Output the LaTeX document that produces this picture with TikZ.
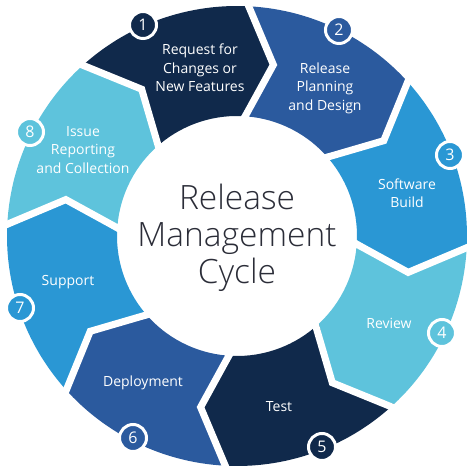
\documentclass[tikz,border=0pt]{standalone}
\usepackage{fontspec}
\setmainfont{Open Sans}
\newfontfamily\lightfont{Open Sans Light}
\definecolor{cnavy}{HTML}{10294B}
\definecolor{cmid}{HTML}{2B5A9E}
\definecolor{cbright}{HTML}{2A97D4}
\definecolor{clight}{HTML}{5EC3DC}
\definecolor{ctext}{HTML}{2B2D38}
\tikzset{
  seglabel/.style={text=white, align=center, font=\fontsize{14}{18.5}\selectfont, inner sep=0pt},
  numdot/.style={circle, draw=white, line width=3pt, minimum size=27pt, inner sep=0pt, text=white, font=\fontsize{16}{16}\selectfont},
  gapline/.style={white, line width=7pt, line join=miter}
}
\begin{document}
\begin{tikzpicture}[x=1pt,y=1pt]
\useasboundingbox (-237,-234) rectangle (237,236);
\def\Ro{230}\def\Ri{120}\def\Rm{175}\def\dl{10}
% segments
\foreach \k/\c in {1/cnavy,2/cmid,3/cbright,4/clight,5/cnavy,6/cmid,7/cbright,8/clight}{
  \pgfmathsetmacro\as{133-45*(\k-1)}
  \pgfmathsetmacro\ae{\as-45}
  \pgfmathsetmacro\at{\ae-\dl}
  \pgfmathsetmacro\an{\as-\dl}
  \fill[\c] (\as:\Ro) arc[start angle=\as,end angle=\ae,radius=\Ro] -- (\at:\Rm) -- (\ae:\Ri)
     arc[start angle=\ae,end angle=\as,radius=\Ri] -- (\an:\Rm) -- cycle;
}
% white gaps
\foreach \k in {1,...,8}{
  \pgfmathsetmacro\as{133-45*(\k-1)}
  \pgfmathsetmacro\an{\as-\dl}
  \draw[gapline] (\as:\Ro+8) -- (\an:\Rm) -- (\as:\Ri-8);
}
% centre title
\node[text=ctext, align=center, font=\lightfont\fontsize{33.5}{37}\selectfont, inner sep=0pt] (title) at (0,-2) {Release\\Management\\Cycle};
% labels
\node[seglabel] (l1) at (-37,168) {Request for\\Changes or\\New Features};
\node[seglabel] (l2) at (88,148) {Release\\Planning\\and Design};
\node[seglabel] (l3) at (170,43) {Software\\Build};
\node[seglabel] (l4) at (152,-87) {Review};
\node[seglabel] (l5) at (42,-171) {Test};
\node[seglabel] (l6) at (-94,-147) {Deployment};
\node[seglabel] (l7) at (-169,-46) {Support};
\node[seglabel] (l8) at (-154,86) {Issue\\Reporting\\and Collection};
% number circles
\node[numdot, fill=cnavy] (n1) at (-94,211) {1};
\node[numdot, fill=cmid] (n2) at (102,206) {2};
\node[numdot, fill=cbright] (n3) at (213,81) {3};
\node[numdot, fill=clight] (n4) at (205,-97) {4};
\node[numdot, fill=cnavy] (n5) at (85,-211) {5};
\node[numdot, fill=cmid] (n6) at (-104,-202) {6};
\node[numdot, fill=cbright] (n7) at (-217,-72) {7};
\node[numdot, fill=clight] (n8) at (-207,104) {8};
\end{tikzpicture}
\end{document}
